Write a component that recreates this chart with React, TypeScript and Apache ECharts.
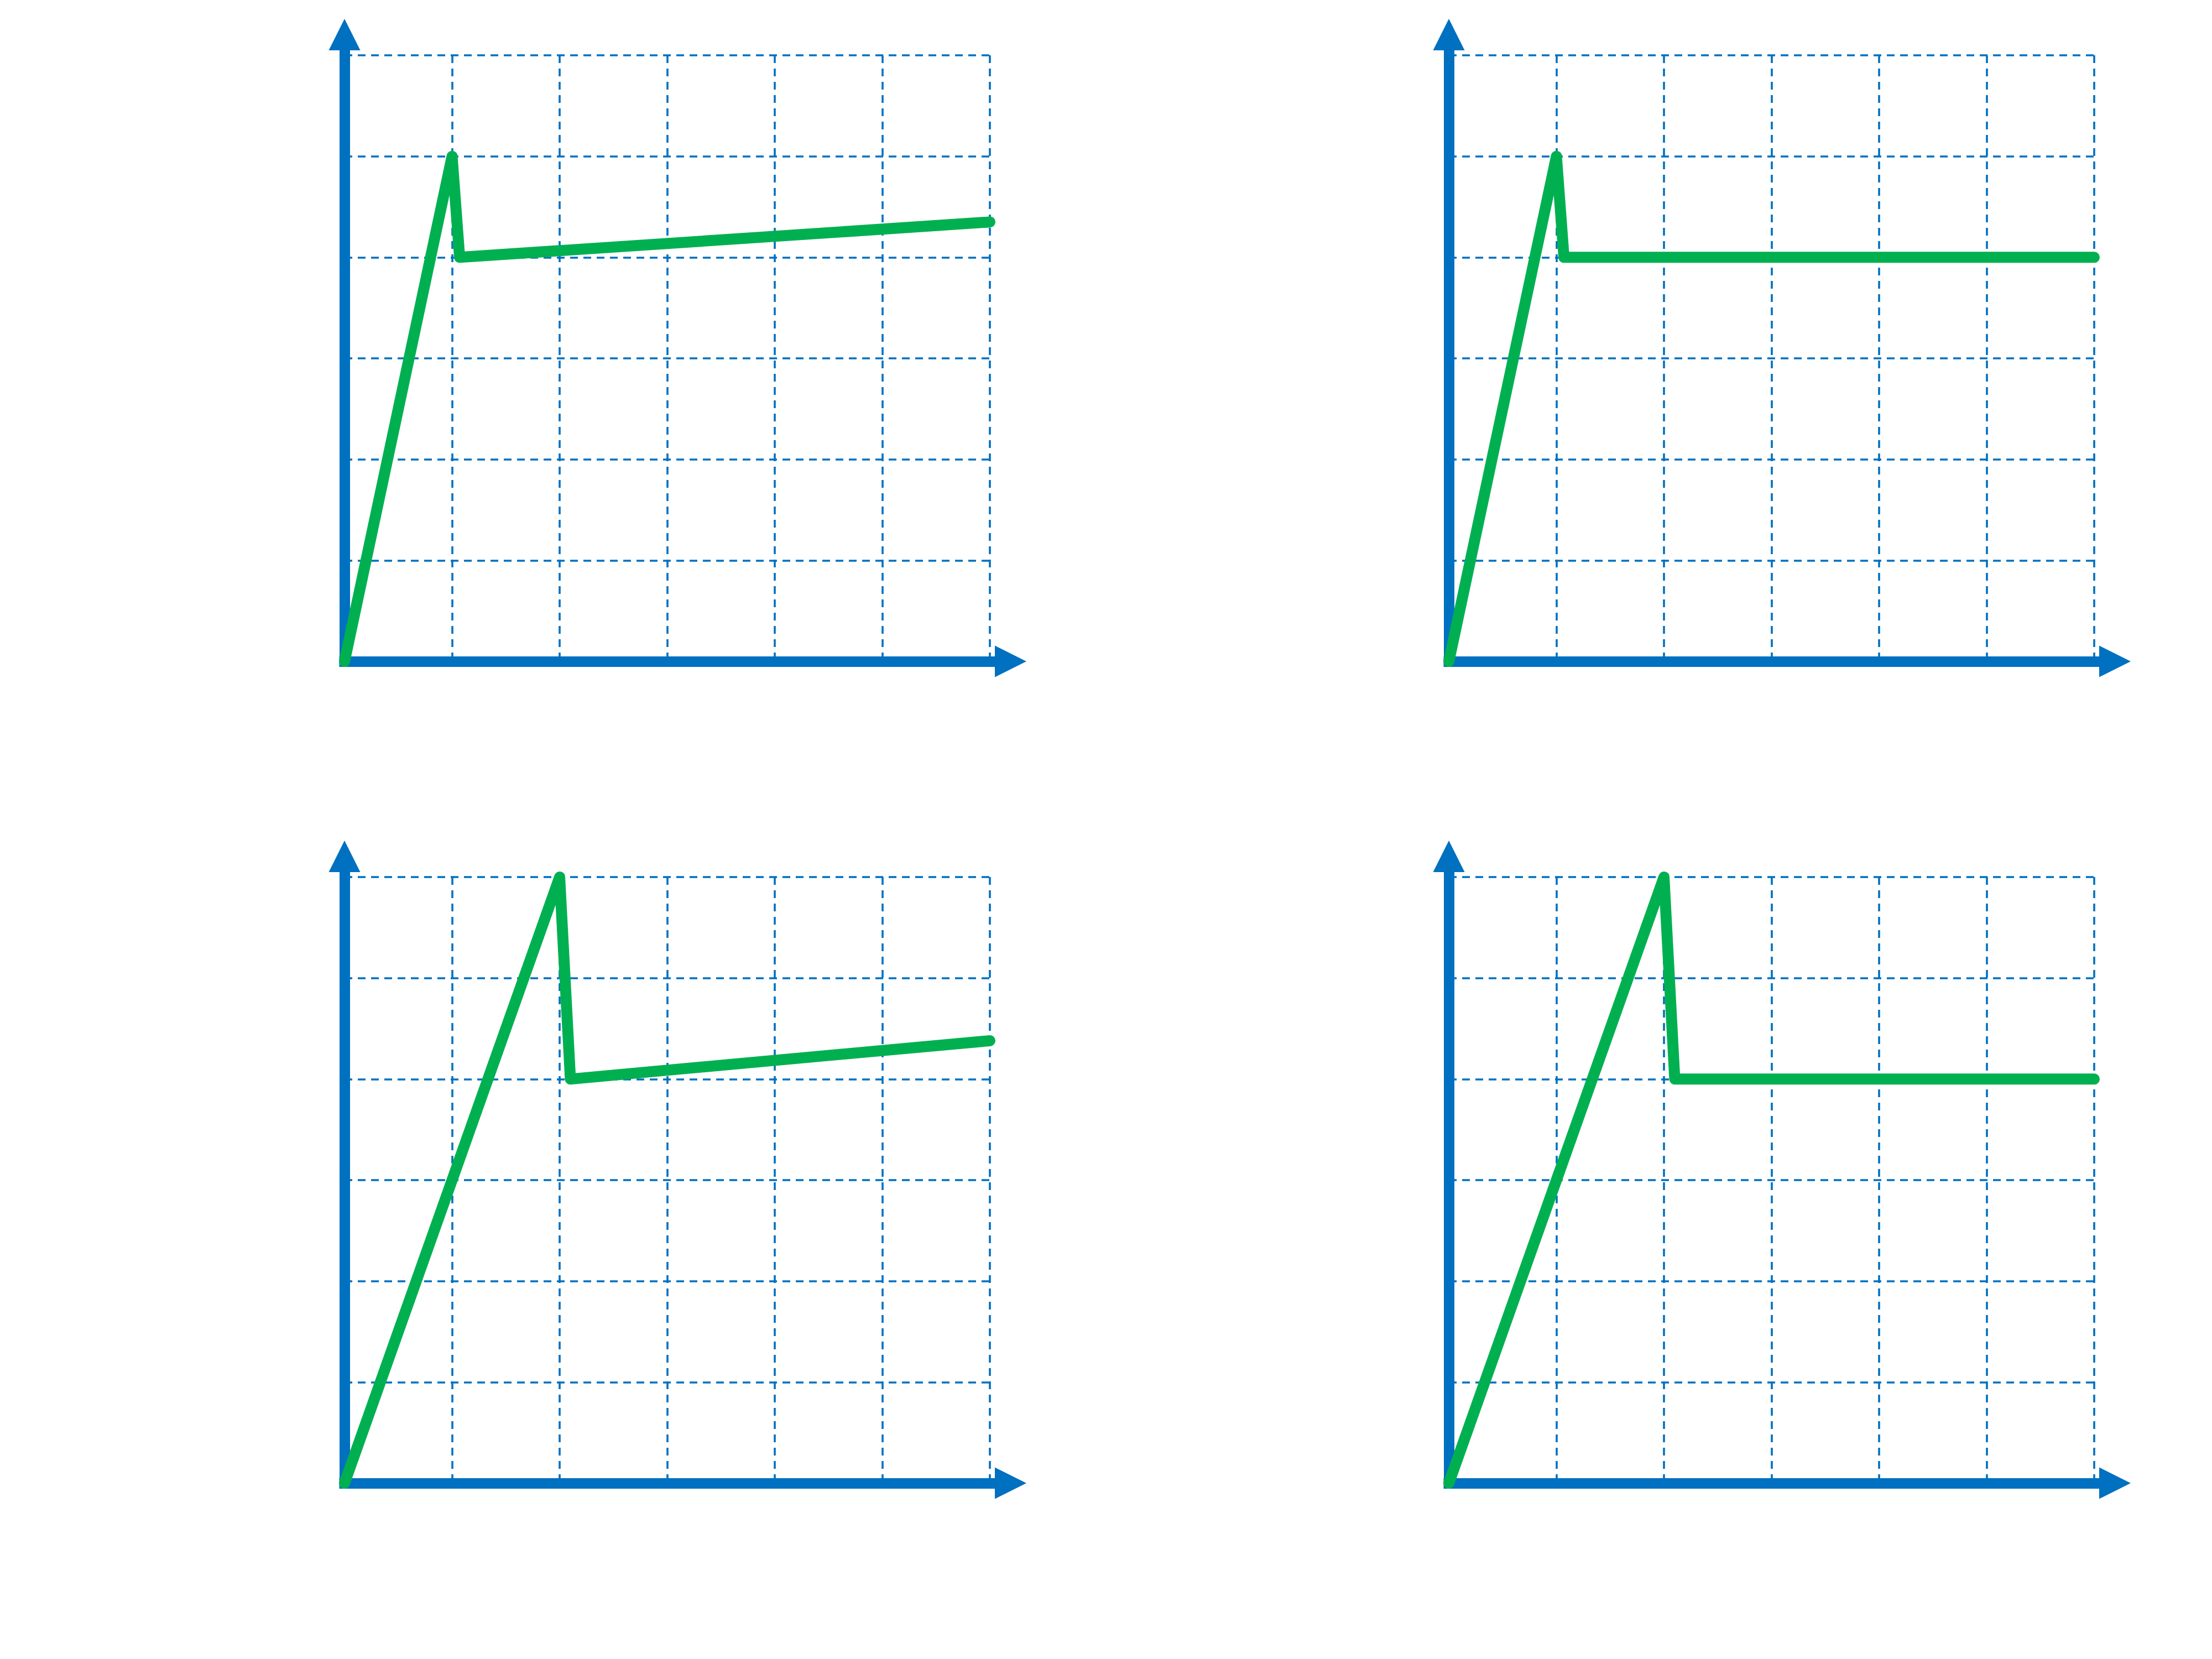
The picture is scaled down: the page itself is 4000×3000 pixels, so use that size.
import React, { useEffect, useRef } from "react";
import * as echarts from "echarts";

const BLUE = "#0070C0";
const GREEN = "#00B050";

// axis extents (grid of 6 x 6 cells)
const xRange = [0, 6];
const yRange = [0, 6];

// Panel data (x, y)
const topLeftX = [0, 1, 1.07, 6];
const topLeftY = [0, 5, 4, 4.35];

const topRightX = [0, 1, 1.07, 6];
const topRightY = [0, 5, 4, 4];

const bottomLeftX = [0, 2, 2.1, 6];
const bottomLeftY = [0, 6, 4, 4.38];

const bottomRightX = [0, 2, 2.1, 6];
const bottomRightY = [0, 6, 4, 4];

const panels = [
  { xs: topLeftX, ys: topLeftY, left: 623, top: 100 },
  { xs: topRightX, ys: topRightY, left: 2620, top: 100 },
  { xs: bottomLeftX, ys: bottomLeftY, left: 623, top: 1586 },
  { xs: bottomRightX, ys: bottomRightY, left: 2620, top: 1586 },
];

const GRID_W = 1167;
const GRID_H = 1096;

export default function App() {
  const ref = useRef<HTMLDivElement>(null);

  useEffect(() => {
    if (!ref.current) return;
    const chart = echarts.init(ref.current, undefined, { renderer: "svg" });

    const splitLine = {
      show: true,
      lineStyle: { color: BLUE, width: 3.6, type: [14, 10] as any },
    };

    const option: any = {
      animation: false,
      backgroundColor: "#ffffff",
      grid: panels.map((p) => ({
        left: p.left,
        top: p.top,
        width: GRID_W,
        height: GRID_H,
        containLabel: false,
      })),
      xAxis: panels.map((p, i) => ({
        type: "value",
        gridIndex: i,
        min: xRange[0],
        max: xRange[1],
        interval: 1,
        axisLine: {
          show: true,
          onZero: false,
          symbol: ["none", "triangle"],
          symbolSize: [57, 57],
          symbolOffset: [0, 37.5],
          lineStyle: { color: BLUE, width: 19, cap: "square" },
        },
        axisTick: { show: false },
        axisLabel: { show: false },
        splitLine,
      })),
      yAxis: panels.map((p, i) => ({
        type: "value",
        gridIndex: i,
        min: yRange[0],
        max: yRange[1],
        interval: 1,
        axisLine: {
          show: true,
          onZero: false,
          symbol: ["none", "triangle"],
          symbolSize: [57, 57],
          symbolOffset: [0, 37.5],
          lineStyle: { color: BLUE, width: 19, cap: "square" },
        },
        axisTick: { show: false },
        axisLabel: { show: false },
        splitLine,
      })),
      series: panels.map((p, i) => ({
        type: "line",
        xAxisIndex: i,
        yAxisIndex: i,
        data: p.xs.map((x, k) => [x, p.ys[k]]),
        showSymbol: false,
        symbol: "none",
        clip: false,
        z: 5,
        lineStyle: { color: GREEN, width: 20, cap: "round", join: "round" },
      })),
    };

    chart.setOption(option);
    return () => chart.dispose();
  }, []);

  return (
    <div
      ref={ref}
      style={{ position: "fixed", left: 0, top: 0, width: 4000, height: 3000, background: "#fff" }}
    />
  );
}
